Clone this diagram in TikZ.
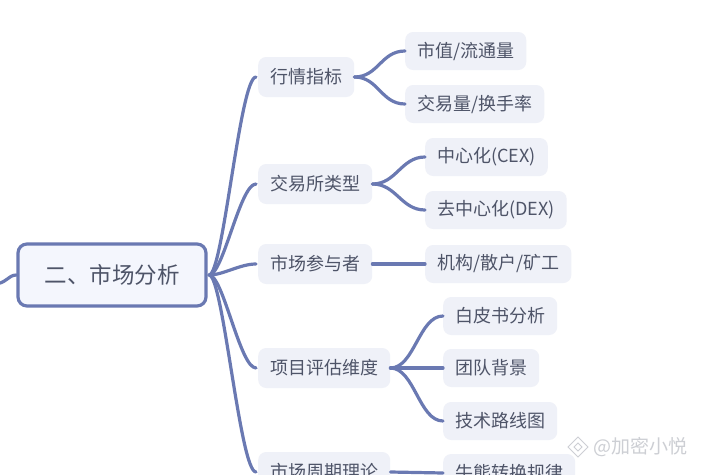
\documentclass[tikz,border=0pt]{standalone}
\usepackage{fontspec}
\setmainfont{Noto Sans CJK SC}
\definecolor{linec}{HTML}{6A79B2}
\definecolor{txtc}{HTML}{4E5468}
\definecolor{boxc}{HTML}{EFF1F8}
\definecolor{mainfill}{HTML}{F4F6FD}
\definecolor{wmc}{HTML}{CDCFD4}
\tikzset{
  conn/.style={draw=linec, line width=3.2pt, line cap=round},
  lvlone/.style={fill=boxc, rounded corners=8pt, text=txtc, font=\fontsize{18}{20}\selectfont,
     minimum height=40pt, inner xsep=12pt, anchor=west},
  lvltwo/.style={fill=boxc, rounded corners=8pt, text=txtc, font=\fontsize{18}{20}\selectfont,
     minimum height=38pt, inner xsep=12pt, anchor=west},
  mainbox/.style={draw=linec, line width=3.2pt, fill=mainfill, rounded corners=9pt, text=txtc,
     font=\fontsize{22.5}{26}\selectfont, minimum width=188pt, minimum height=62pt},
  wmark/.style={text=wmc, font=\fontsize{19}{22}\selectfont}
}
\begin{document}
\begin{tikzpicture}[x=1pt,y=-1pt]
\useasboundingbox (0,0) rectangle (720,474);
\clip (0,0) rectangle (720,474);
\fill[white] (0,0) rectangle (720,474);

% main node
\node[mainbox] (main) at (112,275) {二、市场分析};
\coordinate (parent) at (-6,284);

% level one
\node[lvlone] (a) at (258,77) {行情指标};
\node[lvlone] (b) at (258,184) {交易所类型};
\node[lvlone] (c) at (258,264) {市场参与者};
\node[lvlone] (d) at (258,368) {项目评估维度};
\node[lvlone] (e) at (258,472) {市场周期理论};

% level two
\node[lvltwo] (a1) at (405,51) {市值/流通量};
\node[lvltwo] (a2) at (405,104) {交易量/换手率};
\node[lvltwo] (b1) at (425,157) {中心化(CEX)};
\node[lvltwo] (b2) at (425,210) {去中心化(DEX)};
\node[lvltwo] (c1) at (425,264) {机构/散户/矿工};
\node[lvltwo] (d1) at (443,316) {白皮书分析};
\node[lvltwo] (d2) at (443,368) {团队背景};
\node[lvltwo] (d3) at (443,421) {技术路线图};
\node[lvltwo] (e1) at (443,473) {牛熊转换规律};

% connectors
\draw[conn] (parent) .. controls (6,284) and (8,275) .. (main.west);
\foreach \t in {a,b,c,d,e}{
  \draw[conn] ([xshift=1.5pt]main.east) .. controls +(14,0) and +(-16,0) .. ([xshift=-2pt]\t.west);
}
\draw[conn] (a.east) .. controls +(24,0) and +(-24,0) .. (a1.west);
\draw[conn] (a.east) .. controls +(24,0) and +(-24,0) .. (a2.west);
\draw[conn] (b.east) .. controls +(24,0) and +(-24,0) .. (b1.west);
\draw[conn] (b.east) .. controls +(24,0) and +(-24,0) .. (b2.west);
\draw[conn] (c.east) -- (c1.west);
\draw[conn] (d.east) .. controls +(24,0) and +(-24,0) .. (d1.west);
\draw[conn] (d.east) -- (d2.west);
\draw[conn] (d.east) .. controls +(24,0) and +(-24,0) .. (d3.west);
\draw[conn] (e.east) -- (e1.west);

% watermark
\node[wmark, anchor=west] (wm) at (590,447) {@加密小悦};
\draw[wmc, line width=1pt] (578,437) -- (588,447) -- (578,457) -- (568,447) -- cycle;
\draw[wmc, line width=1pt] (578,443) -- (582,447) -- (578,451) -- (574,447) -- cycle;
\end{tikzpicture}
\end{document}
